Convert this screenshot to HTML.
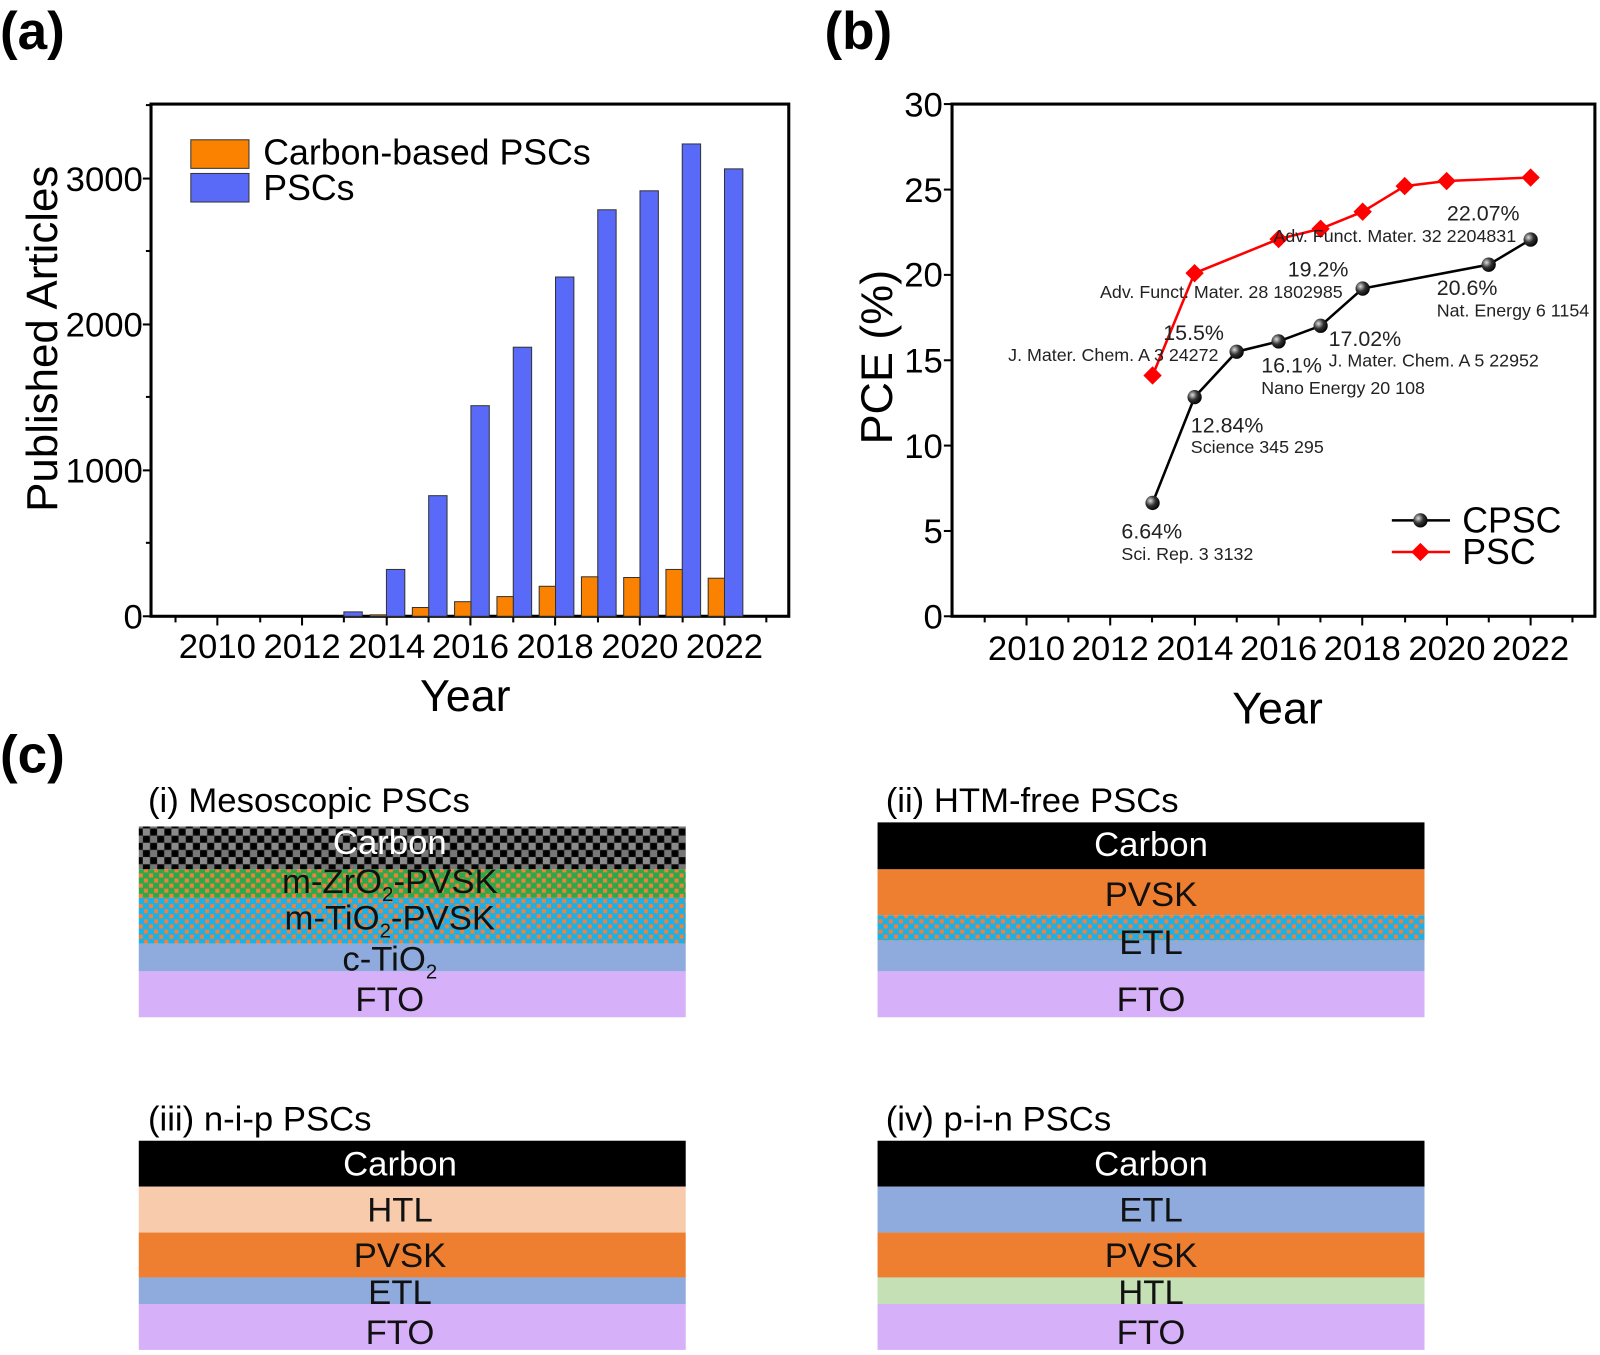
<!DOCTYPE html>
<html><head><meta charset="utf-8"><style>
html,body{margin:0;padding:0;background:#fff;}
svg{display:block;}
text{font-family:"Liberation Sans",sans-serif;}
</style></head><body>
<svg width="1600" height="1355" viewBox="0 0 1568 1328" preserveAspectRatio="none" xmlns="http://www.w3.org/2000/svg">
<defs>
<pattern id="carb" width="14" height="14" patternUnits="userSpaceOnUse">
<rect width="14" height="14" fill="#111"/><rect x="0" y="0" width="7" height="7" fill="#8a8a8a"/><rect x="7" y="7" width="7" height="7" fill="#777"/><circle cx="10.5" cy="3.5" r="3" fill="#000"/><circle cx="3.5" cy="10.5" r="3" fill="#000"/>
</pattern>
<pattern id="zr" width="10" height="10" patternUnits="userSpaceOnUse">
<rect width="10" height="10" fill="#2aa84a"/><rect x="1" y="1" width="4" height="4" fill="#f0803a"/><rect x="6" y="6" width="4" height="4" fill="#f0803a"/>
</pattern>
<pattern id="ti" width="10" height="10" patternUnits="userSpaceOnUse">
<rect width="10" height="10" fill="#1ab0e8"/><rect x="1" y="1" width="4" height="4" fill="#f0803a"/><rect x="6" y="6" width="4" height="4" fill="#f0803a"/>
</pattern>
<radialGradient id="sph" cx="0.35" cy="0.35" r="0.7"><stop offset="0" stop-color="#ddd"/><stop offset="0.5" stop-color="#333"/><stop offset="1" stop-color="#000"/></radialGradient>
</defs>

<!-- (a) -->
<text x="0" y="48" font-size="52" font-weight="bold">(a)</text>
<rect x="148" y="102" width="625" height="502" fill="none" stroke="#000" stroke-width="3"/>
<g stroke="#000" stroke-width="2">
<line x1="140" y1="604" x2="148" y2="604"/><line x1="140" y1="461" x2="148" y2="461"/><line x1="140" y1="318" x2="148" y2="318"/><line x1="140" y1="175" x2="148" y2="175"/>
<line x1="143" y1="532" x2="148" y2="532"/><line x1="143" y1="389" x2="148" y2="389"/><line x1="143" y1="246" x2="148" y2="246"/><line x1="143" y1="103" x2="148" y2="103"/>
<line x1="213" y1="604" x2="213" y2="613"/><line x1="296" y1="604" x2="296" y2="613"/><line x1="379" y1="604" x2="379" y2="613"/><line x1="461" y1="604" x2="461" y2="613"/><line x1="544" y1="604" x2="544" y2="613"/><line x1="627" y1="604" x2="627" y2="613"/><line x1="710" y1="604" x2="710" y2="613"/>
<line x1="172" y1="604" x2="172" y2="610"/><line x1="255" y1="604" x2="255" y2="610"/><line x1="337" y1="604" x2="337" y2="610"/><line x1="420" y1="604" x2="420" y2="610"/><line x1="503" y1="604" x2="503" y2="610"/><line x1="586" y1="604" x2="586" y2="610"/><line x1="669" y1="604" x2="669" y2="610"/><line x1="751" y1="604" x2="751" y2="610"/>
</g>
<g font-size="34" text-anchor="end">
<text x="140" y="616">0</text><text x="140" y="473">1000</text><text x="140" y="330">2000</text><text x="140" y="187">3000</text>
</g>
<g font-size="34" text-anchor="middle">
<text x="213" y="645">2010</text><text x="296" y="645">2012</text><text x="379" y="645">2014</text><text x="461" y="645">2016</text><text x="544" y="645">2018</text><text x="627" y="645">2020</text><text x="710" y="645">2022</text>
</g>
<text x="456" y="697" font-size="44" text-anchor="middle">Year</text>
<text transform="translate(56,332) rotate(-90)" font-size="43" text-anchor="middle">Published Articles</text>
<g stroke="#333" stroke-width="1">
<g fill="#5a6af8">
<rect x="337" y="599.7" width="18" height="4.3"/>
<rect x="378.7" y="558.1" width="18" height="45.9"/>
<rect x="420.1" y="485.8" width="18" height="118.2"/>
<rect x="461.5" y="397.6" width="18" height="206.4"/>
<rect x="503" y="340.3" width="18" height="263.7"/>
<rect x="544.4" y="271.5" width="18" height="332.5"/>
<rect x="585.8" y="205.6" width="18" height="398.4"/>
<rect x="627.2" y="187" width="18" height="417"/>
<rect x="668.6" y="141.1" width="18" height="462.9"/>
<rect x="710" y="165.5" width="18" height="438.5"/>
</g>
<g fill="#fb8200">
<rect x="362.7" y="602.6" width="16" height="1.4"/>
<rect x="404.1" y="595.4" width="16" height="8.6"/>
<rect x="445.5" y="589.7" width="16" height="14.3"/>
<rect x="487" y="584.7" width="16" height="19.3"/>
<rect x="528.4" y="574.6" width="16" height="29.4"/>
<rect x="569.8" y="565.3" width="16" height="38.7"/>
<rect x="611.2" y="566" width="16" height="38"/>
<rect x="652.6" y="558.1" width="16" height="45.9"/>
<rect x="694" y="566.7" width="16" height="37.3"/>
</g>
<rect x="187" y="137" width="57" height="28" fill="#fb8200"/>
<rect x="187" y="170" width="57" height="28" fill="#5a6af8"/>
</g>
<text x="258" y="161" font-size="35">Carbon-based PSCs</text>
<text x="258" y="196" font-size="35">PSCs</text>

<!-- (b) -->
<text x="808" y="48" font-size="52" font-weight="bold">(b)</text>
<rect x="933" y="102" width="630" height="502" fill="none" stroke="#000" stroke-width="3"/>
<g stroke="#000" stroke-width="2">
<line x1="925" y1="604" x2="933" y2="604"/><line x1="925" y1="520.4" x2="933" y2="520.4"/><line x1="925" y1="436.7" x2="933" y2="436.7"/><line x1="925" y1="353.1" x2="933" y2="353.1"/><line x1="925" y1="269.4" x2="933" y2="269.4"/><line x1="925" y1="185.8" x2="933" y2="185.8"/><line x1="925" y1="102" x2="933" y2="102"/>
<line x1="1006" y1="604" x2="1006" y2="613"/><line x1="1088" y1="604" x2="1088" y2="613"/><line x1="1171" y1="604" x2="1171" y2="613"/><line x1="1253" y1="604" x2="1253" y2="613"/><line x1="1335" y1="604" x2="1335" y2="613"/><line x1="1418" y1="604" x2="1418" y2="613"/><line x1="1500" y1="604" x2="1500" y2="613"/>
<line x1="965" y1="604" x2="965" y2="610"/><line x1="1047" y1="604" x2="1047" y2="610"/><line x1="1129" y1="604" x2="1129" y2="610"/><line x1="1212" y1="604" x2="1212" y2="610"/><line x1="1294" y1="604" x2="1294" y2="610"/><line x1="1377" y1="604" x2="1377" y2="610"/><line x1="1459" y1="604" x2="1459" y2="610"/><line x1="1541" y1="604" x2="1541" y2="610"/>
</g>
<g font-size="34" text-anchor="end">
<text x="924" y="616">0</text><text x="924" y="532">5</text><text x="924" y="449">10</text><text x="924" y="365">15</text><text x="924" y="281">20</text><text x="924" y="198">25</text><text x="924" y="114">30</text>
</g>
<g font-size="34" text-anchor="middle">
<text x="1006" y="647">2010</text><text x="1088" y="647">2012</text><text x="1171" y="647">2014</text><text x="1253" y="647">2016</text><text x="1335" y="647">2018</text><text x="1418" y="647">2020</text><text x="1500" y="647">2022</text>
</g>
<text x="1252" y="709" font-size="44" text-anchor="middle">Year</text>
<text transform="translate(874,350) rotate(-90)" font-size="44" text-anchor="middle">PCE (%)</text>
<polyline points="1129.5,368.1 1170.7,267.7 1253,234.3 1294.2,224.2 1335.4,207.5 1376.6,182.4 1417.7,177.4 1500,174" fill="none" stroke="#f00" stroke-width="2.5"/>
<g fill="#f00">
<path d="M1129.5,359 l9,9 l-9,9 l-9,-9z"/><path d="M1170.7,258.7 l9,9 l-9,9 l-9,-9z"/><path d="M1253,225.3 l9,9 l-9,9 l-9,-9z"/><path d="M1294.2,215.2 l9,9 l-9,9 l-9,-9z"/><path d="M1335.4,198.5 l9,9 l-9,9 l-9,-9z"/><path d="M1376.6,173.4 l9,9 l-9,9 l-9,-9z"/><path d="M1417.7,168.4 l9,9 l-9,9 l-9,-9z"/><path d="M1500,165 l9,9 l-9,9 l-9,-9z"/>
</g>
<polyline points="1129.5,492.9 1170.7,389.2 1211.9,344.7 1253,334.6 1294.2,319.3 1335.4,282.8 1458.9,259.4 1500,234.8" fill="none" stroke="#000" stroke-width="2.5"/>
<g fill="url(#sph)">
<circle cx="1129.5" cy="492.9" r="7"/><circle cx="1170.7" cy="389.2" r="7"/><circle cx="1211.9" cy="344.7" r="7"/><circle cx="1253" cy="334.6" r="7"/><circle cx="1294.2" cy="319.3" r="7"/><circle cx="1335.4" cy="282.8" r="7"/><circle cx="1458.9" cy="259.4" r="7"/><circle cx="1500" cy="234.8" r="7"/>
</g>
<g font-size="21" fill="#222">
<text x="1418" y="216">22.07%</text><text x="1262" y="271">19.2%</text><text x="1408" y="289">20.6%</text><text x="1140" y="333">15.5%</text><text x="1302" y="339">17.02%</text><text x="1236" y="365">16.1%</text><text x="1167" y="424">12.84%</text><text x="1099" y="528">6.64%</text>
</g>
<g font-size="17.5" fill="#222">
<text x="1248" y="237">Adv. Funct. Mater. 32 2204831</text>
<text x="1078" y="292">Adv. Funct. Mater. 28 1802985</text>
<text x="1408" y="310">Nat. Energy 6 1154</text>
<text x="988" y="354">J. Mater. Chem. A 3 24272</text>
<text x="1302" y="359">J. Mater. Chem. A 5 22952</text>
<text x="1236" y="386">Nano Energy 20 108</text>
<text x="1167" y="444">Science 345 295</text>
<text x="1099" y="549">Sci. Rep. 3 3132</text>
</g>
<line x1="1364" y1="510" x2="1421" y2="510" stroke="#000" stroke-width="2.5"/>
<circle cx="1392" cy="510" r="7" fill="url(#sph)"/>
<line x1="1364" y1="541" x2="1421" y2="541" stroke="#f00" stroke-width="2.5"/>
<path d="M1392,532 l9,9 l-9,9 l-9,-9z" fill="#f00"/>
<text x="1433" y="522" font-size="35">CPSC</text>
<text x="1433" y="553" font-size="35">PSC</text>

<!-- (c) -->
<text x="0" y="757" font-size="52" font-weight="bold">(c)</text>
<g font-size="34">
<text x="145" y="796">(i) Mesoscopic PSCs</text>
<text x="868" y="796">(ii) HTM-free PSCs</text>
<text x="145" y="1108">(iii) n-i-p PSCs</text>
<text x="868" y="1108">(iv) p-i-n PSCs</text>
</g>
<!-- i -->
<rect x="136" y="810" width="536" height="42" fill="url(#carb)"/>
<rect x="136" y="852" width="536" height="28" fill="url(#zr)"/>
<rect x="136" y="880" width="536" height="45" fill="url(#ti)"/>
<rect x="136" y="925" width="536" height="27" fill="#8faadc"/>
<rect x="136" y="952" width="536" height="45" fill="#d6b0f8"/>
<g font-size="34" text-anchor="middle" fill="#111">
<text x="382" y="837" fill="#fff">Carbon</text>
<text x="382" y="875">m-ZrO<tspan font-size="20" dy="8">2</tspan><tspan dy="-8">-PVSK</tspan></text>
<text x="382" y="911">m-TiO<tspan font-size="20" dy="8">2</tspan><tspan dy="-8">-PVSK</tspan></text>
<text x="382" y="951">c-TiO<tspan font-size="20" dy="8">2</tspan></text>
<text x="382" y="991">FTO</text>
</g>
<!-- ii -->
<rect x="860" y="806" width="536" height="46" fill="#000"/>
<rect x="860" y="852" width="536" height="45" fill="#ee7f30"/>
<rect x="860" y="897" width="536" height="25" fill="url(#ti)"/>
<rect x="860" y="922" width="536" height="30" fill="#8faadc"/>
<rect x="860" y="952" width="536" height="45" fill="#d6b0f8"/>
<g font-size="34" text-anchor="middle" fill="#111">
<text x="1128" y="839" fill="#fff">Carbon</text>
<text x="1128" y="888">PVSK</text>
<text x="1128" y="935">ETL</text>
<text x="1128" y="991">FTO</text>
</g>
<!-- iii -->
<rect x="136" y="1118" width="536" height="45" fill="#000"/>
<rect x="136" y="1163" width="536" height="45" fill="#f8cbad"/>
<rect x="136" y="1208" width="536" height="44" fill="#ee7f30"/>
<rect x="136" y="1252" width="536" height="26" fill="#8faadc"/>
<rect x="136" y="1278" width="536" height="45" fill="#d6b0f8"/>
<g font-size="34" text-anchor="middle" fill="#111">
<text x="392" y="1152" fill="#fff">Carbon</text>
<text x="392" y="1197">HTL</text>
<text x="392" y="1242">PVSK</text>
<text x="392" y="1278">ETL</text>
<text x="392" y="1317">FTO</text>
</g>
<!-- iv -->
<rect x="860" y="1118" width="536" height="45" fill="#000"/>
<rect x="860" y="1163" width="536" height="45" fill="#8faadc"/>
<rect x="860" y="1208" width="536" height="44" fill="#ee7f30"/>
<rect x="860" y="1252" width="536" height="26" fill="#c5e0b4"/>
<rect x="860" y="1278" width="536" height="45" fill="#d6b0f8"/>
<g font-size="34" text-anchor="middle" fill="#111">
<text x="1128" y="1152" fill="#fff">Carbon</text>
<text x="1128" y="1197">ETL</text>
<text x="1128" y="1242">PVSK</text>
<text x="1128" y="1278">HTL</text>
<text x="1128" y="1317">FTO</text>
</g>
</svg>
</body></html>
